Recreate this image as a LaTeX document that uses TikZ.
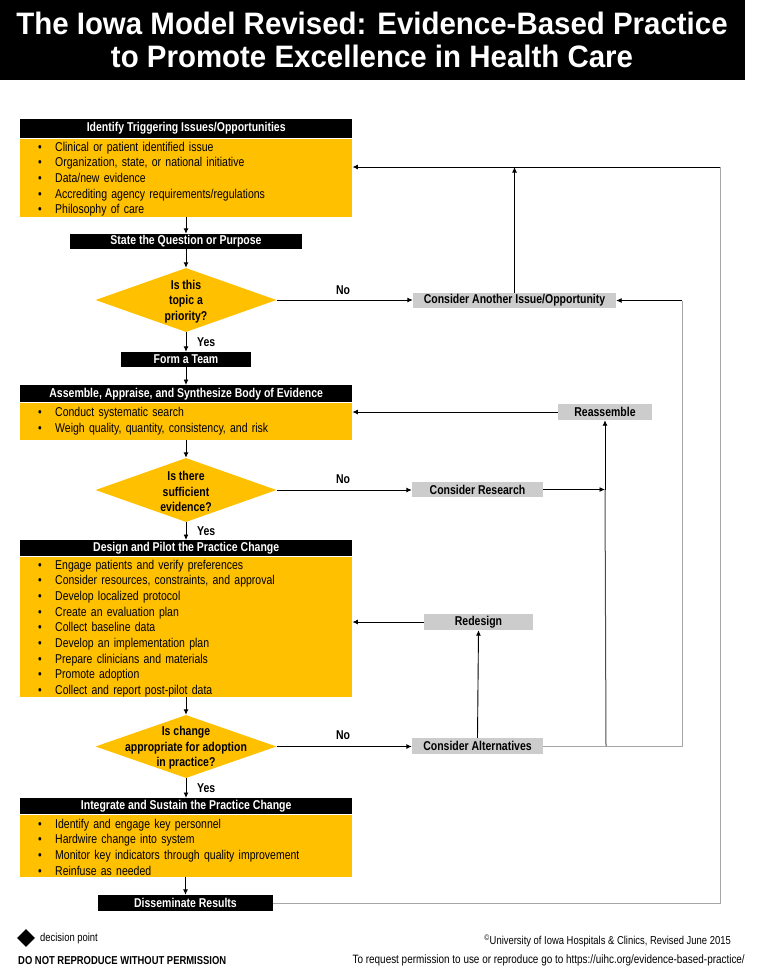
\documentclass[tikz,border=0pt]{standalone}
\usepackage{fontspec}
\setmainfont{Liberation Sans}[FakeStretch=0.82]
\newfontfamily\titlefont{Liberation Sans}[FakeStretch=0.95]
\usetikzlibrary{shapes.geometric,arrows.meta,positioning}
\definecolor{gold}{HTML}{FFC000}
\definecolor{boxgray}{HTML}{CCCCCC}
\definecolor{linegray}{HTML}{A6A6A6}
\newcommand{\bulletline}[1]{\hspace*{18pt}\makebox[17pt][l]{•}#1}
\newcommand{\toppad}{\rule{0pt}{12.5pt}}
\tikzset{
  hdr/.style={fill=black,text=white,font=\fontsize{12.8}{15}\selectfont\bfseries,inner sep=0pt,minimum width=332pt,anchor=north west},
  body/.style={fill=gold,text width=332pt,inner xsep=0pt,inner ysep=0pt,align=left,anchor=north west,font=\fontsize{12.8}{15.65}\selectfont},
  blk/.style={fill=black,text=white,font=\fontsize{12.8}{15}\selectfont\bfseries,inner sep=0pt},
  gbox/.style={fill=boxgray,font=\fontsize{12.8}{15}\selectfont\bfseries,inner sep=0pt},
  dia/.style={diamond,fill=gold,inner sep=0pt,minimum width=181pt,minimum height=64pt},
  diatext/.style={font=\fontsize{12.8}{15.5}\selectfont\bfseries,align=center,inner sep=0pt,yshift=-1.5pt},
  lbl/.style={font=\fontsize{12.8}{15}\selectfont\bfseries,inner sep=0pt},
  arr/.style={draw=black,line width=0.9pt,-{Latex[length=5.5pt,width=5pt]}},
  gln/.style={draw=linegray,line width=1pt},
}
\begin{document}
\begin{tikzpicture}[x=1pt,y=-1pt]
\useasboundingbox (0,0) rectangle (768,971);
% title
\node[fill=black,minimum width=745pt,minimum height=80pt,anchor=north west,inner sep=0pt] (titlebox) at (0,0) {};
\node[text=white,font=\titlefont\fontsize{31}{31}\selectfont\bfseries,align=center,inner sep=0pt] (title) at (372,40) {The Iowa Model Revised: Evidence-Based Practice\\[2pt]to Promote Excellence in Health Care};

% main column
\node[hdr,minimum height=19pt] (h1) at (20,119) {Identify Triggering Issues/Opportunities};
\node[body,minimum height=78pt] (b1) at (h1.south west) {\toppad\bulletline{Clinical or patient identified issue}\\\bulletline{Organization, state, or national initiative}\\\bulletline{Data/new evidence}\\\bulletline{Accrediting agency requirements/regulations}\\\bulletline{Philosophy of care}};
\node[blk,minimum width=232pt,minimum height=15pt] (q) at (186,241.5) {State the Question or Purpose};
\node[dia,label={[diatext,name=d1t]center:{Is this\\topic a\\priority?}}] (d1) at (186,300) {};
\node[blk,minimum width=130pt,minimum height=15pt] (team) at (186,359.5) {Form a Team};

\node[hdr,minimum height=17pt] (h2) at (20,385) {Assemble, Appraise, and Synthesize Body of Evidence};
\node[body,minimum height=37pt] (b2) at (h2.south west) {\bulletline{Conduct systematic search}\\\bulletline{Weigh quality, quantity, consistency, and risk}};
\node[dia,label={[diatext,name=d2t]center:{Is there\\sufficient\\evidence?}}] (d2) at (186,490) {};

\node[hdr,minimum height=16pt] (h3) at (20,540) {Design and Pilot the Practice Change};
\node[body,minimum height=140pt] (b3) at (h3.south west) {\toppad\bulletline{Engage patients and verify preferences}\\\bulletline{Consider resources, constraints, and approval}\\\bulletline{Develop localized protocol}\\\bulletline{Create an evaluation plan}\\\bulletline{Collect baseline data}\\\bulletline{Develop an implementation plan}\\\bulletline{Prepare clinicians and materials}\\\bulletline{Promote adoption}\\\bulletline{Collect and report post-pilot data}};
\node[dia,minimum height=63pt,label={[diatext,name=d3t]center:{Is change\\appropriate for adoption\\in practice?}}] (d3) at (186,746.5) {};

\node[hdr,minimum height=16pt] (h4) at (20,798) {Integrate and Sustain the Practice Change};
\node[body,minimum height=62pt] (b4) at (h4.south west) {\toppad\bulletline{Identify and engage key personnel}\\\bulletline{Hardwire change into system}\\\bulletline{Monitor key indicators through quality improvement}\\\bulletline{Reinfuse as needed}};
\node[blk,minimum width=175pt,minimum height=16pt] (diss) at (185.5,903) {Disseminate Results};

% gray boxes
\node[gbox,minimum width=203pt,minimum height=15pt] (ca) at (514.5,300.5) {Consider Another Issue/Opportunity};
\node[gbox,minimum width=94pt,minimum height=16pt] (reas) at (605,412) {Reassemble};
\node[gbox,minimum width=131pt,minimum height=15pt] (cr) at (477.5,489.5) {Consider Research};
\node[gbox,minimum width=109pt,minimum height=16pt] (redes) at (478.5,622) {Redesign};
\node[gbox,minimum width=131pt,minimum height=16pt] (calt) at (477.5,746) {Consider Alternatives};

% labels
\node[lbl] (no1) at (343,290) {No};
\node[lbl] (no2) at (343,479) {No};
\node[lbl] (no3) at (343,735) {No};
\node[lbl,anchor=west] (yes1) at (197,342) {Yes};
\node[lbl,anchor=west] (yes2) at (197,531) {Yes};
\node[lbl,anchor=west] (yes3) at (197,788) {Yes};

% main flow
\draw[arr] (b1.south -| q.north) -- (q.north);
\draw[arr] (q) -- (d1);
\draw[arr] (d1) -- (team);
\draw[arr] (team) -- (team.south |- h2.north);
\draw[arr] (b2.south -| d2.north) -- (d2.north);
\draw[arr] (d2) -- (d2.south |- h3.north);
\draw[arr] (b3.south -| d3.north) -- (d3.north);
\draw[arr] (d3) -- (d3.south |- h4.north);
\draw[arr] (b4.south -| diss.north) -- (diss.north);

% no branches
\draw[arr] (d1.east) -- (ca.west |- d1.east);
\draw[arr] (d2.east) -- (cr.west |- d2.east);
\draw[arr] (d3.east) -- (calt.west |- d3.east);

% loops
\coordinate (topr) at (720,167);
\coordinate (botr) at (720,903);
\coordinate (caup) at (ca.north |- topr);
\draw[gln] (diss.east) -- (botr) -- (topr);
\draw[arr] (topr) -- (b1.east |- topr);
\draw[arr] (ca.north) -- (caup);
\coordinate (rsplit) at (606,746);
\coordinate (ralt) at (682,746);
\coordinate (rca) at (682,300.5);
\draw[gln] (calt.east) -- (ralt) -- (rca);
\draw[arr] (rca) -- (ca.east);
\draw[draw=black!70,line width=1pt] (rsplit) -- (reas.south |- cr.east);
\draw[arr] (reas.south |- cr.east) -- (reas.south);
\draw[arr] (cr.east) -- (reas.south |- cr.east);
\draw[arr] (reas.west) -- (b2.east |- reas.west);
\draw[arr] (redes.west) -- (b3.east |- redes.west);
\draw[arr] (calt.north) -- (redes.south);

% footer
\node[diamond,fill=black,minimum width=18pt,minimum height=18pt,inner sep=0pt] (legdia) at (26,938) {};
\node[anchor=west,font=\fontsize{11.5}{12}\selectfont,inner sep=0pt] (legtxt) at (40,939) {decision point};
\node[anchor=west,font=\fontsize{11.5}{12}\selectfont\bfseries,inner sep=0pt] (dnr) at (18,961) {DO NOT REPRODUCE WITHOUT PERMISSION};
\node[anchor=east,font=\fontsize{11.5}{12}\selectfont,inner sep=0pt] (copy) at (731,941) {\textsuperscript{©}University of Iowa Hospitals \& Clinics, Revised June 2015};
\node[anchor=east,font=\fontsize{12.1}{12}\selectfont,inner sep=0pt] (req) at (745,960) {To request permission to use or reproduce go to https://uihc.org/evidence-based-practice/};
\end{tikzpicture}
\end{document}
